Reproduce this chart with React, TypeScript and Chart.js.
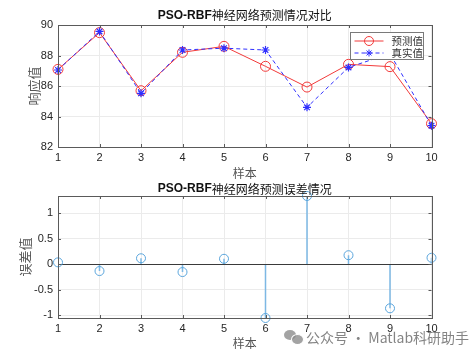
import React, { useEffect, useRef } from "react";
import { Chart, registerables } from "chart.js";
Chart.register(...registerables);

// ---- data ----
const samples = [1, 2, 3, 4, 5, 6, 7, 8, 9, 10];
const predicted = [87.09, 89.5, 85.69, 88.21, 88.6, 87.29, 85.93, 87.42, 87.27, 83.53];
const actual = [87.05, 89.58, 85.52, 88.36, 88.48, 88.36, 84.6, 87.22, 88.12, 83.4];
const errors = [0.04, -0.13, 0.12, -0.15, 0.11, -1.05, 1.34, 0.18, -0.86, 0.13];
const topYTicks = [82, 84, 86, 88, 90];
const bottomYTicks = [-1, -0.5, 0, 0.5, 1];
const xTicks = samples;

const titlePrefix = "PSO-RBF";
const topTitleRest = "神经网络预测情况对比";
const bottomTitleRest = "神经网络预测误差情况";
const xTitle = "样本";
const topYTitle = "响应值";
const bottomYTitle = "误差值";
const legendLabels = ["预测值", "真实值"];
const watermark = "公众号 · Matlab科研助手";

// ---- styles ----
const LATIN = "'Liberation Sans', Arial, Helvetica, sans-serif";
const CJK = "'Noto Sans CJK SC', 'Noto Sans', sans-serif";
const AXIS_COLOR = "#5a5a5a";
const GRID_COLOR = "#ebebeb";
const TICK_COLOR = "#262626";
const LABEL_COLOR = "#555555";
const RED = "#f23a3a";
const BLUE = "#2f2fff";
const STEM = "#5aa5dc";
const STEM_LINE = "#7db8e4";

function makeTitlePlugin(rest: string, centerY: number) {
  return {
    id: "mixedTitle",
    afterDraw(chart: any) {
      const { ctx, chartArea } = chart;
      ctx.save();
      ctx.fillStyle = "#111111";
      ctx.textBaseline = "middle";
      ctx.textAlign = "left";
      const fontA = `bold 12px ${LATIN}`;
      const fontB = `12px ${CJK}`;
      ctx.font = fontA;
      const wa = ctx.measureText(titlePrefix).width;
      ctx.font = fontB;
      const wb = ctx.measureText(rest).width;
      const cx = (chartArea.left + chartArea.right) / 2;
      const x = cx - (wa + wb) / 2;
      ctx.font = fontA;
      ctx.fillText(titlePrefix, x, centerY);
      ctx.font = fontB;
      ctx.fillText(rest, x + wa, centerY);
      ctx.restore();
    },
  };
}

const framePlugin = {
  id: "frame",
  afterDatasetsDraw(chart: any) {
    const { ctx, chartArea } = chart;
    const { left, top, right, bottom } = chartArea;
    ctx.save();
    ctx.strokeStyle = AXIS_COLOR;
    ctx.lineWidth = 1;
    ctx.strokeRect(Math.round(left) + 0.5, Math.round(top) + 0.5, Math.round(right - left), Math.round(bottom - top));
    const xs = chart.scales.x;
    const ys = chart.scales.y;
    ctx.beginPath();
    xs.ticks.forEach((t: any) => {
      const px = Math.round(xs.getPixelForValue(t.value)) + 0.5;
      ctx.moveTo(px, bottom);
      ctx.lineTo(px, bottom - 3);
      ctx.moveTo(px, top);
      ctx.lineTo(px, top + 3);
    });
    ys.ticks.forEach((t: any) => {
      const py = Math.round(ys.getPixelForValue(t.value)) + 0.5;
      ctx.moveTo(left, py);
      ctx.lineTo(left + 3, py);
      ctx.moveTo(right, py);
      ctx.lineTo(right - 3, py);
    });
    ctx.stroke();
    ctx.restore();
  },
};

const legendPlugin = {
  id: "customLegend",
  afterDraw(chart: any) {
    const { ctx, chartArea } = chart;
    const boxRight = chartArea.right - 8.5;
    const boxTop = chartArea.top + 7;
    const w = 73;
    const h = 27;
    const x0 = Math.round(boxRight - w) + 0.5;
    const y0 = Math.round(boxTop) + 0.5;
    ctx.save();
    ctx.fillStyle = "#ffffff";
    ctx.fillRect(x0, y0, w, h);
    ctx.strokeStyle = "#7a7a7a";
    ctx.lineWidth = 1;
    ctx.strokeRect(x0, y0, w, h);
    const rows = [y0 + 8.5, y0 + 20.5];
    ctx.strokeStyle = RED;
    ctx.beginPath();
    ctx.moveTo(x0 + 4, rows[0]);
    ctx.lineTo(x0 + 33, rows[0]);
    ctx.stroke();
    ctx.beginPath();
    ctx.arc(x0 + 18.5, rows[0], 4.5, 0, Math.PI * 2);
    ctx.stroke();
    ctx.strokeStyle = BLUE;
    ctx.setLineDash([4, 3]);
    ctx.beginPath();
    ctx.moveTo(x0 + 4, rows[1]);
    ctx.lineTo(x0 + 33, rows[1]);
    ctx.stroke();
    ctx.setLineDash([]);
    const cx = x0 + 18.5;
    const cy = rows[1];
    const r = 3.5;
    ctx.beginPath();
    for (let i = 0; i < 4; i++) {
      const a = (i * Math.PI) / 4;
      ctx.moveTo(cx - r * Math.cos(a), cy - r * Math.sin(a));
      ctx.lineTo(cx + r * Math.cos(a), cy + r * Math.sin(a));
    }
    ctx.stroke();
    ctx.fillStyle = "#333333";
    ctx.font = `10.5px ${CJK}`;
    ctx.textBaseline = "middle";
    ctx.textAlign = "left";
    ctx.fillText(legendLabels[0], x0 + 41, rows[0]);
    ctx.fillText(legendLabels[1], x0 + 41, rows[1]);
    ctx.restore();
  },
};

function makeScales(opts: {
  yTicks: number[];
  yMin: number;
  yMax: number;
  yTitle: string;
  yTitlePad: number;
  xHeight: number;
  zeroLine?: boolean;
}) {
  return {
    x: {
      type: "linear",
      min: 1,
      max: 10,
      offset: false,
      afterBuildTicks: (s: any) => {
        s.ticks = xTicks.map((v) => ({ value: v }));
      },
      afterFit: (s: any) => {
        s.height = opts.xHeight;
      },
      grid: { color: GRID_COLOR, drawTicks: false, offset: false },
      border: { display: false },
      ticks: {
        padding: 4,
        color: TICK_COLOR,
        font: { family: LATIN, size: 11 },
        maxRotation: 0,
        autoSkip: false,
        callback: (v: any) => String(v),
      },
      title: {
        display: true,
        text: xTitle,
        color: LABEL_COLOR,
        font: { family: CJK, size: 12 },
        padding: { top: 0, bottom: 4.2 },
      },
    },
    y: {
      type: "linear",
      min: opts.yMin,
      max: opts.yMax,
      afterBuildTicks: (s: any) => {
        s.ticks = opts.yTicks.map((v) => ({ value: v }));
      },
      afterFit: (s: any) => {
        s.width = 58;
      },
      grid: {
        drawTicks: false,
        color: (c: any) =>
          opts.zeroLine && c.tick && c.tick.value === 0 ? "#3a3a3a" : GRID_COLOR,
      },
      border: { display: false },
      ticks: {
        padding: 5,
        color: TICK_COLOR,
        font: { family: LATIN, size: 11 },
        callback: (v: any) => String(v),
      },
      title: {
        display: true,
        text: opts.yTitle,
        color: LABEL_COLOR,
        font: { family: CJK, size: 13 },
        padding: { top: opts.yTitlePad, bottom: 0 },
      },
    },
  };
}

function TopChart() {
  const ref = useRef<HTMLCanvasElement>(null);
  useEffect(() => {
    const chart = new Chart(ref.current as HTMLCanvasElement, {
      type: "line",
      data: {
        datasets: [
          {
            label: legendLabels[1],
            data: samples.map((x, i) => ({ x, y: actual[i] })),
            borderColor: BLUE,
            backgroundColor: BLUE,
            borderWidth: 1,
            borderDash: [4, 3],
            pointStyle: "star",
            pointRadius: 4,
            pointBorderWidth: 1.2,
            tension: 0,
            clip: false,
          },
          {
            label: legendLabels[0],
            data: samples.map((x, i) => ({ x, y: predicted[i] })),
            borderColor: RED,
            backgroundColor: "rgba(0,0,0,0)",
            borderWidth: 1,
            pointStyle: "circle",
            pointRadius: 5,
            pointBorderWidth: 1,
            tension: 0,
            clip: false,
          },
        ],
      },
      options: {
        responsive: false,
        animation: false,
        layout: { padding: { left: 0, right: 42.5, top: 25, bottom: 0 } },
        plugins: {
          legend: { display: false },
          tooltip: { enabled: false },
          title: { display: false },
        },
        scales: makeScales({
          yTicks: topYTicks,
          yMin: 82,
          yMax: 90,
          yTitle: topYTitle,
          yTitlePad: 26.5,
          xHeight: 38,
        }) as any,
      },
      plugins: [framePlugin, legendPlugin, makeTitlePlugin(topTitleRest, 15.5)],
    } as any);
    return () => chart.destroy();
  }, []);
  return (
    <canvas
      ref={ref}
      width={474}
      height={185}
      style={{ position: "absolute", left: 0, top: 0, width: 474, height: 185 }}
    />
  );
}

function BottomChart() {
  const ref = useRef<HTMLCanvasElement>(null);
  useEffect(() => {
    const chart = new Chart(ref.current as HTMLCanvasElement, {
      data: {
        datasets: [
          {
            type: "line",
            label: "stem-markers",
            data: samples.map((x, i) => ({ x, y: errors[i] })),
            showLine: false,
            borderColor: STEM,
            backgroundColor: "rgba(0,0,0,0)",
            pointStyle: "circle",
            pointRadius: 4.5,
            pointBorderWidth: 1,
            clip: false,
          },
          {
            type: "bar",
            label: "stems",
            data: samples.map((x, i) => ({ x, y: [0, errors[i]] })),
            backgroundColor: STEM_LINE,
            borderWidth: 0,
            barThickness: 1.5,
            inflateAmount: 0,
            grouped: false,
          },
        ],
      },
      options: {
        responsive: false,
        animation: false,
        layout: { padding: { left: 0, right: 42.5, top: 20, bottom: 0 } },
        plugins: {
          legend: { display: false },
          tooltip: { enabled: false },
          title: { display: false },
        },
        scales: makeScales({
          yTicks: bottomYTicks,
          yMin: -1.05,
          yMax: 1.34,
          yTitle: bottomYTitle,
          yTitlePad: 17,
          xHeight: 37,
          zeroLine: true,
        }) as any,
      },
      plugins: [framePlugin, makeTitlePlugin(bottomTitleRest, 13)],
    } as any);
    return () => chart.destroy();
  }, []);
  return (
    <canvas
      ref={ref}
      width={474}
      height={179}
      style={{ position: "absolute", left: 0, top: 176, width: 474, height: 179 }}
    />
  );
}

export default function App() {
  return (
    <div
      style={{
        position: "fixed",
        left: 0,
        top: 0,
        width: 474,
        height: 355,
        background: "#ffffff",
        overflow: "hidden",
      }}
    >
      <TopChart />
      <BottomChart />
      <div
        style={{
          position: "absolute",
          left: 284,
          top: 328,
          display: "flex",
          alignItems: "center",
          color: "rgba(110,110,110,0.85)",
          fontFamily: CJK,
          fontSize: 14,
          lineHeight: "18px",
          whiteSpace: "nowrap",
        }}
      >
        <div style={{ position: "relative", width: 20, height: 16, marginRight: 2 }}>
          <div
            style={{
              position: "absolute",
              left: 0,
              top: 1,
              width: 12,
              height: 10,
              borderRadius: "50%",
              background: "rgba(140,140,140,0.8)",
            }}
          />
          <div
            style={{
              position: "absolute",
              left: 7,
              top: 5,
              width: 11,
              height: 9,
              borderRadius: "50%",
              background: "rgba(140,140,140,0.8)",
              border: "1px solid #fff",
            }}
          />
        </div>
        <span>{watermark}</span>
      </div>
    </div>
  );
}
